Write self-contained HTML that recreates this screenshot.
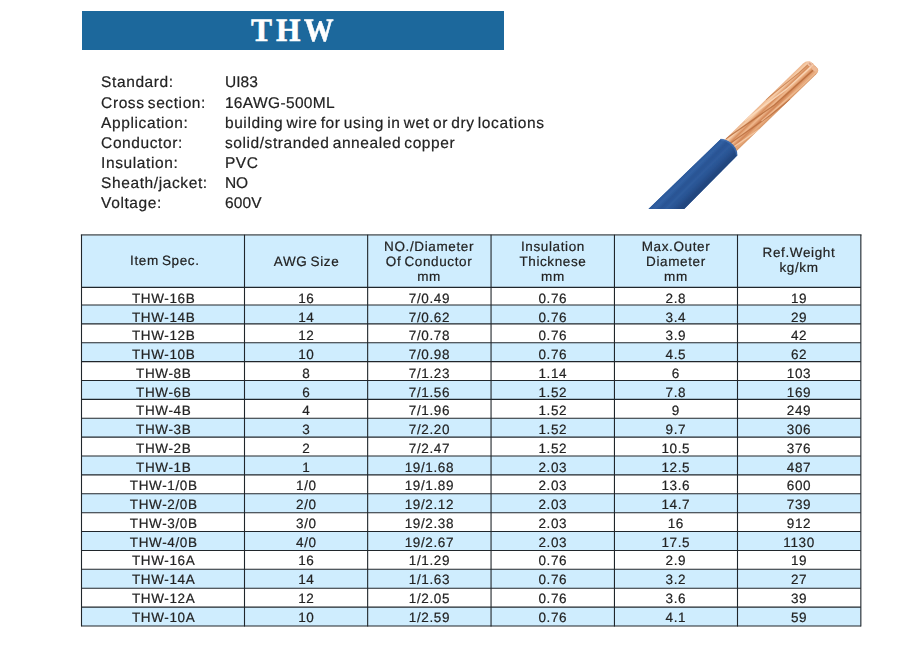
<!DOCTYPE html>
<html><head><meta charset="utf-8"><title>THW</title>
<style>
html,body{margin:0;padding:0;background:#fff;}
#txt{position:absolute;left:0;top:0;width:916px;height:664px;will-change:transform;}
body{text-rendering:geometricPrecision;width:916px;height:664px;position:relative;overflow:hidden;font-family:"Liberation Sans",sans-serif;color:#222;}
.banner{position:absolute;left:82px;top:11px;width:422px;height:39px;background:#1c689c;}
.title{position:absolute;left:82px;top:10.5px;width:422px;height:39px;line-height:39px;text-align:center;color:#fff;font-family:"Liberation Serif",serif;font-weight:bold;font-size:34px;letter-spacing:0;white-space:nowrap;-webkit-text-stroke:0.6px #fff;transform:translateY(0.35px) scale(0.926,0.965);transform-origin:210px 31.3px;}
.sp{position:absolute;font-size:15.5px;letter-spacing:0.62px;word-spacing:-1.7px;line-height:20px;height:20px;white-space:nowrap;color:#222;-webkit-text-stroke:0.2px #222;}
.c{position:absolute;text-align:center;font-size:13.5px;letter-spacing:0.62px;word-spacing:-1.2px;line-height:16px;height:16px;white-space:nowrap;color:#222;-webkit-text-stroke:0.2px #222;}
svg{position:absolute;left:0;top:0;}
</style></head><body>
<div class="banner"></div><div class="title"><span style="letter-spacing:4.4px">T</span><span style="letter-spacing:3.0px">H</span><span style="display:inline-block;transform:scaleX(0.94);transform-origin:50% 50%">W</span></div>
<svg width="916" height="664" viewBox="0 0 916 664">
<rect x="81.5" y="234.8" width="779.35" height="52.60" fill="#cfedfe"/>
<rect x="81.5" y="305.00" width="779.35" height="18.88" fill="#cfedfe"/>
<rect x="81.5" y="342.76" width="779.35" height="18.88" fill="#cfedfe"/>
<rect x="81.5" y="380.52" width="779.35" height="18.88" fill="#cfedfe"/>
<rect x="81.5" y="418.28" width="779.35" height="18.88" fill="#cfedfe"/>
<rect x="81.5" y="456.04" width="779.35" height="18.88" fill="#cfedfe"/>
<rect x="81.5" y="493.80" width="779.35" height="18.88" fill="#cfedfe"/>
<rect x="81.5" y="531.56" width="779.35" height="18.88" fill="#cfedfe"/>
<rect x="81.5" y="569.32" width="779.35" height="18.88" fill="#cfedfe"/>
<rect x="81.5" y="607.08" width="779.35" height="18.88" fill="#cfedfe"/>
<g stroke="#20262b" stroke-width="1.1" fill="none">
<line x1="80.85" y1="234.8" x2="861.5" y2="234.8" stroke="#737a7e" stroke-width="1.7"/>
<line x1="81.5" y1="287.40" x2="860.85" y2="287.40"/>
<line x1="81.5" y1="305.00" x2="860.85" y2="305.00"/>
<line x1="81.5" y1="323.88" x2="860.85" y2="323.88"/>
<line x1="81.5" y1="342.76" x2="860.85" y2="342.76"/>
<line x1="81.5" y1="361.64" x2="860.85" y2="361.64"/>
<line x1="81.5" y1="380.52" x2="860.85" y2="380.52"/>
<line x1="81.5" y1="399.40" x2="860.85" y2="399.40"/>
<line x1="81.5" y1="418.28" x2="860.85" y2="418.28"/>
<line x1="81.5" y1="437.16" x2="860.85" y2="437.16"/>
<line x1="81.5" y1="456.04" x2="860.85" y2="456.04"/>
<line x1="81.5" y1="474.92" x2="860.85" y2="474.92"/>
<line x1="81.5" y1="493.80" x2="860.85" y2="493.80"/>
<line x1="81.5" y1="512.68" x2="860.85" y2="512.68"/>
<line x1="81.5" y1="531.56" x2="860.85" y2="531.56"/>
<line x1="81.5" y1="550.44" x2="860.85" y2="550.44"/>
<line x1="81.5" y1="569.32" x2="860.85" y2="569.32"/>
<line x1="81.5" y1="588.20" x2="860.85" y2="588.20"/>
<line x1="81.5" y1="607.08" x2="860.85" y2="607.08"/>
<line x1="81.5" y1="625.96" x2="860.85" y2="625.96"/>
<line x1="81.5" y1="234.8" x2="81.5" y2="626.61"/>
<line x1="244.5" y1="234.8" x2="244.5" y2="626.61"/>
<line x1="367.65" y1="234.8" x2="367.65" y2="626.61"/>
<line x1="491.05" y1="234.8" x2="491.05" y2="626.61"/>
<line x1="614.45" y1="234.8" x2="614.45" y2="626.61"/>
<line x1="737.5" y1="234.8" x2="737.5" y2="626.61"/>
<line x1="860.85" y1="234.8" x2="860.85" y2="626.61"/>
</g>
<defs>
<linearGradient id="gb" gradientUnits="userSpaceOnUse" x1="0" y1="-12.5" x2="0" y2="12.5" spreadMethod="pad">
<stop offset="0" stop-color="#264e89"/><stop offset="0.12" stop-color="#2b5899"/><stop offset="0.3" stop-color="#3160a2"/><stop offset="0.46" stop-color="#295393"/><stop offset="0.62" stop-color="#2e5b9c"/><stop offset="0.85" stop-color="#27508e"/><stop offset="1" stop-color="#22467f"/>
</linearGradient>
<linearGradient id="gc" gradientUnits="userSpaceOnUse" x1="0" y1="-8.4" x2="0" y2="8.4">
<stop offset="0" stop-color="#eab188"/><stop offset="0.16" stop-color="#f8cfab"/><stop offset="0.36" stop-color="#d78d5c"/><stop offset="0.5" stop-color="#f0b98e"/><stop offset="0.68" stop-color="#d28555"/><stop offset="0.84" stop-color="#e9ac7e"/><stop offset="1" stop-color="#d69363"/>
</linearGradient>
<filter id="soft" x="-5%" y="-5%" width="110%" height="110%"><feGaussianBlur stdDeviation="0.45"/></filter>
<clipPath id="cpc"><path d="M-6,-8.2 L109.5,-8.4 Q116,-8.4 116.5,-2 L116.5,5 Q116,8.4 111.5,8.4 L-6,8.2 Z"/></clipPath>
</defs>
<g filter="url(#soft)">
<g transform="translate(730.3,145.7) rotate(-44.1)">
<path d="M-6,-8.2 L109.5,-8.4 Q116,-8.4 116.5,-2 L116.5,5 Q116,8.4 111.5,8.4 L-6,8.2 Z" fill="url(#gc)"/>
<g fill="none" stroke-linecap="round" clip-path="url(#cpc)">
<path d="M2,-8 L60,1.5 L115,3.5" stroke="#b96d3d" stroke-width="1.3" opacity="0.85"/>
<path d="M0,-2 L50,6 L75,8.4" stroke="#bb6f3f" stroke-width="1.2" opacity="0.85"/>
<path d="M28,-8.2 L80,-1.5 L115,-0.5" stroke="#fbdcbe" stroke-width="1.5" opacity="0.85"/>
<path d="M0,3 L32,8.4" stroke="#f7ceaa" stroke-width="1.3" opacity="0.85"/>
<path d="M58,-8.3 L100,-4.5 L115,-4" stroke="#c67c4b" stroke-width="1.1" opacity="0.85"/>
<path d="M40,4 L90,7 L115,7" stroke="#f3c39b" stroke-width="1.2" opacity="0.7"/>
</g>
<ellipse cx="114" cy="-3.2" rx="2.2" ry="3.2" fill="#f3c6a8"/>
<ellipse cx="114" cy="3.4" rx="2.2" ry="3.2" fill="#eeb995"/>
<ellipse cx="114.2" cy="-3.2" rx="1" ry="1.8" fill="#d9a285"/>
</g>
<path d="M648.5,209 L684.2,209 L737.2,155.5 Q737,147.5 730,142.5 Q724.5,139 720.6,139.2 Z" fill="#2a579a"/>
<g transform="translate(703,168) rotate(-44.7)">
<clipPath id="cpb"><path transform="rotate(44.7) translate(-703,-168)" d="M648.5,209 L684.2,209 L737.2,155.5 Q737,147.5 730,142.5 Q724.5,139 720.6,139.2 Z"/></clipPath>
<rect x="-75" y="-20" width="120" height="40" fill="url(#gb)" clip-path="url(#cpb)"/>
</g>
<path d="M720.6,139.6 Q725,139.3 730,143 Q736.5,148 736.8,155.5" fill="none" stroke="#4575b8" stroke-width="1.6" opacity="0.6"/>
</g>

</svg>
<div id="txt">
<div class="sp" style="left:101.1px;top:73px;letter-spacing:0.6px">Standard:</div><div class="sp" style="left:224.9px;top:73px;letter-spacing:0.1px">UI83</div>
<div class="sp" style="left:101.1px;top:94px;letter-spacing:0.6px">Cross section:</div><div class="sp" style="left:224.9px;top:94px;letter-spacing:0.36px">16AWG-500ML</div>
<div class="sp" style="left:101.1px;top:114px;letter-spacing:0.6px">Application:</div><div class="sp" style="left:224.9px;top:114px;letter-spacing:0.62px">building wire for using in wet or dry locations</div>
<div class="sp" style="left:101.1px;top:134px;letter-spacing:0.6px">Conductor:</div><div class="sp" style="left:224.9px;top:134px;letter-spacing:0.58px">solid/stranded annealed copper</div>
<div class="sp" style="left:101.1px;top:154px;letter-spacing:0.6px">Insulation:</div><div class="sp" style="left:224.9px;top:154px;letter-spacing:0.6px">PVC</div>
<div class="sp" style="left:101.1px;top:174px;letter-spacing:0.6px">Sheath/jacket:</div><div class="sp" style="left:224.9px;top:174px;letter-spacing:0.0px">NO</div>
<div class="sp" style="left:101.1px;top:194px;letter-spacing:0.6px">Voltage:</div><div class="sp" style="left:224.9px;top:194px;letter-spacing:0.2px">600V</div>
<div class="c" style="left:83.30px;width:163.00px;top:253.30px">Item Spec.</div>
<div class="c" style="left:245.00px;width:123.15px;top:254.30px">AWG Size</div>
<div class="c" style="left:367.35px;width:123.40px;top:239.00px">NO./Diameter</div>
<div class="c" style="left:367.35px;width:123.40px;top:254.00px">Of Conductor</div>
<div class="c" style="left:367.35px;width:123.40px;top:269.00px">mm</div>
<div class="c" style="left:491.25px;width:123.40px;top:239.00px">Insulation</div>
<div class="c" style="left:491.25px;width:123.40px;top:254.00px">Thicknese</div>
<div class="c" style="left:491.25px;width:123.40px;top:269.00px">mm</div>
<div class="c" style="left:614.45px;width:123.05px;top:239.00px">Max.Outer</div>
<div class="c" style="left:614.45px;width:123.05px;top:254.00px">Diameter</div>
<div class="c" style="left:614.45px;width:123.05px;top:269.00px">mm</div>
<div class="c" style="left:737.30px;width:123.35px;top:244.60px">Ref.Weight</div>
<div class="c" style="left:737.30px;width:123.35px;top:260.00px">kg/km</div>
<div class="c" style="left:82.20px;width:163.00px;top:291.00px">THW-16B</div>
<div class="c" style="left:244.80px;width:123.15px;top:291.00px">16</div>
<div class="c" style="left:367.70px;width:123.40px;top:291.00px">7/0.49</div>
<div class="c" style="left:491.15px;width:123.40px;top:291.00px">0.76</div>
<div class="c" style="left:614.30px;width:123.05px;top:291.00px">2.8</div>
<div class="c" style="left:737.40px;width:123.35px;top:291.00px">19</div>
<div class="c" style="left:82.20px;width:163.00px;top:310.00px">THW-14B</div>
<div class="c" style="left:244.80px;width:123.15px;top:310.00px">14</div>
<div class="c" style="left:367.70px;width:123.40px;top:310.00px">7/0.62</div>
<div class="c" style="left:491.15px;width:123.40px;top:310.00px">0.76</div>
<div class="c" style="left:614.30px;width:123.05px;top:310.00px">3.4</div>
<div class="c" style="left:737.40px;width:123.35px;top:310.00px">29</div>
<div class="c" style="left:82.20px;width:163.00px;top:328.00px">THW-12B</div>
<div class="c" style="left:244.80px;width:123.15px;top:328.00px">12</div>
<div class="c" style="left:367.70px;width:123.40px;top:328.00px">7/0.78</div>
<div class="c" style="left:491.15px;width:123.40px;top:328.00px">0.76</div>
<div class="c" style="left:614.30px;width:123.05px;top:328.00px">3.9</div>
<div class="c" style="left:737.40px;width:123.35px;top:328.00px">42</div>
<div class="c" style="left:82.20px;width:163.00px;top:347.00px">THW-10B</div>
<div class="c" style="left:244.80px;width:123.15px;top:347.00px">10</div>
<div class="c" style="left:367.70px;width:123.40px;top:347.00px">7/0.98</div>
<div class="c" style="left:491.15px;width:123.40px;top:347.00px">0.76</div>
<div class="c" style="left:614.30px;width:123.05px;top:347.00px">4.5</div>
<div class="c" style="left:737.40px;width:123.35px;top:347.00px">62</div>
<div class="c" style="left:82.20px;width:163.00px;top:366.00px">THW-8B</div>
<div class="c" style="left:244.80px;width:123.15px;top:366.00px">8</div>
<div class="c" style="left:367.70px;width:123.40px;top:366.00px">7/1.23</div>
<div class="c" style="left:491.15px;width:123.40px;top:366.00px">1.14</div>
<div class="c" style="left:614.30px;width:123.05px;top:366.00px">6</div>
<div class="c" style="left:737.40px;width:123.35px;top:366.00px">103</div>
<div class="c" style="left:82.20px;width:163.00px;top:385.00px">THW-6B</div>
<div class="c" style="left:244.80px;width:123.15px;top:385.00px">6</div>
<div class="c" style="left:367.70px;width:123.40px;top:385.00px">7/1.56</div>
<div class="c" style="left:491.15px;width:123.40px;top:385.00px">1.52</div>
<div class="c" style="left:614.30px;width:123.05px;top:385.00px">7.8</div>
<div class="c" style="left:737.40px;width:123.35px;top:385.00px">169</div>
<div class="c" style="left:82.20px;width:163.00px;top:403.00px">THW-4B</div>
<div class="c" style="left:244.80px;width:123.15px;top:403.00px">4</div>
<div class="c" style="left:367.70px;width:123.40px;top:403.00px">7/1.96</div>
<div class="c" style="left:491.15px;width:123.40px;top:403.00px">1.52</div>
<div class="c" style="left:614.30px;width:123.05px;top:403.00px">9</div>
<div class="c" style="left:737.40px;width:123.35px;top:403.00px">249</div>
<div class="c" style="left:82.20px;width:163.00px;top:422.00px">THW-3B</div>
<div class="c" style="left:244.80px;width:123.15px;top:422.00px">3</div>
<div class="c" style="left:367.70px;width:123.40px;top:422.00px">7/2.20</div>
<div class="c" style="left:491.15px;width:123.40px;top:422.00px">1.52</div>
<div class="c" style="left:614.30px;width:123.05px;top:422.00px">9.7</div>
<div class="c" style="left:737.40px;width:123.35px;top:422.00px">306</div>
<div class="c" style="left:82.20px;width:163.00px;top:441.00px">THW-2B</div>
<div class="c" style="left:244.80px;width:123.15px;top:441.00px">2</div>
<div class="c" style="left:367.70px;width:123.40px;top:441.00px">7/2.47</div>
<div class="c" style="left:491.15px;width:123.40px;top:441.00px">1.52</div>
<div class="c" style="left:614.30px;width:123.05px;top:441.00px">10.5</div>
<div class="c" style="left:737.40px;width:123.35px;top:441.00px">376</div>
<div class="c" style="left:82.20px;width:163.00px;top:460.00px">THW-1B</div>
<div class="c" style="left:244.80px;width:123.15px;top:460.00px">1</div>
<div class="c" style="left:367.70px;width:123.40px;top:460.00px">19/1.68</div>
<div class="c" style="left:491.15px;width:123.40px;top:460.00px">2.03</div>
<div class="c" style="left:614.30px;width:123.05px;top:460.00px">12.5</div>
<div class="c" style="left:737.40px;width:123.35px;top:460.00px">487</div>
<div class="c" style="left:82.20px;width:163.00px;top:478.00px">THW-1/0B</div>
<div class="c" style="left:244.80px;width:123.15px;top:478.00px">1/0</div>
<div class="c" style="left:367.70px;width:123.40px;top:478.00px">19/1.89</div>
<div class="c" style="left:491.15px;width:123.40px;top:478.00px">2.03</div>
<div class="c" style="left:614.30px;width:123.05px;top:478.00px">13.6</div>
<div class="c" style="left:737.40px;width:123.35px;top:478.00px">600</div>
<div class="c" style="left:82.20px;width:163.00px;top:497.00px">THW-2/0B</div>
<div class="c" style="left:244.80px;width:123.15px;top:497.00px">2/0</div>
<div class="c" style="left:367.70px;width:123.40px;top:497.00px">19/2.12</div>
<div class="c" style="left:491.15px;width:123.40px;top:497.00px">2.03</div>
<div class="c" style="left:614.30px;width:123.05px;top:497.00px">14.7</div>
<div class="c" style="left:737.40px;width:123.35px;top:497.00px">739</div>
<div class="c" style="left:82.20px;width:163.00px;top:516.00px">THW-3/0B</div>
<div class="c" style="left:244.80px;width:123.15px;top:516.00px">3/0</div>
<div class="c" style="left:367.70px;width:123.40px;top:516.00px">19/2.38</div>
<div class="c" style="left:491.15px;width:123.40px;top:516.00px">2.03</div>
<div class="c" style="left:614.30px;width:123.05px;top:516.00px">16</div>
<div class="c" style="left:737.40px;width:123.35px;top:516.00px">912</div>
<div class="c" style="left:82.20px;width:163.00px;top:535.00px">THW-4/0B</div>
<div class="c" style="left:244.80px;width:123.15px;top:535.00px">4/0</div>
<div class="c" style="left:367.70px;width:123.40px;top:535.00px">19/2.67</div>
<div class="c" style="left:491.15px;width:123.40px;top:535.00px">2.03</div>
<div class="c" style="left:614.30px;width:123.05px;top:535.00px">17.5</div>
<div class="c" style="left:737.40px;width:123.35px;top:535.00px">1130</div>
<div class="c" style="left:82.20px;width:163.00px;top:553.00px">THW-16A</div>
<div class="c" style="left:244.80px;width:123.15px;top:553.00px">16</div>
<div class="c" style="left:367.70px;width:123.40px;top:553.00px">1/1.29</div>
<div class="c" style="left:491.15px;width:123.40px;top:553.00px">0.76</div>
<div class="c" style="left:614.30px;width:123.05px;top:553.00px">2.9</div>
<div class="c" style="left:737.40px;width:123.35px;top:553.00px">19</div>
<div class="c" style="left:82.20px;width:163.00px;top:572.00px">THW-14A</div>
<div class="c" style="left:244.80px;width:123.15px;top:572.00px">14</div>
<div class="c" style="left:367.70px;width:123.40px;top:572.00px">1/1.63</div>
<div class="c" style="left:491.15px;width:123.40px;top:572.00px">0.76</div>
<div class="c" style="left:614.30px;width:123.05px;top:572.00px">3.2</div>
<div class="c" style="left:737.40px;width:123.35px;top:572.00px">27</div>
<div class="c" style="left:82.20px;width:163.00px;top:591.00px">THW-12A</div>
<div class="c" style="left:244.80px;width:123.15px;top:591.00px">12</div>
<div class="c" style="left:367.70px;width:123.40px;top:591.00px">1/2.05</div>
<div class="c" style="left:491.15px;width:123.40px;top:591.00px">0.76</div>
<div class="c" style="left:614.30px;width:123.05px;top:591.00px">3.6</div>
<div class="c" style="left:737.40px;width:123.35px;top:591.00px">39</div>
<div class="c" style="left:82.20px;width:163.00px;top:610.00px">THW-10A</div>
<div class="c" style="left:244.80px;width:123.15px;top:610.00px">10</div>
<div class="c" style="left:367.70px;width:123.40px;top:610.00px">1/2.59</div>
<div class="c" style="left:491.15px;width:123.40px;top:610.00px">0.76</div>
<div class="c" style="left:614.30px;width:123.05px;top:610.00px">4.1</div>
<div class="c" style="left:737.40px;width:123.35px;top:610.00px">59</div>
</div>
</body></html>
